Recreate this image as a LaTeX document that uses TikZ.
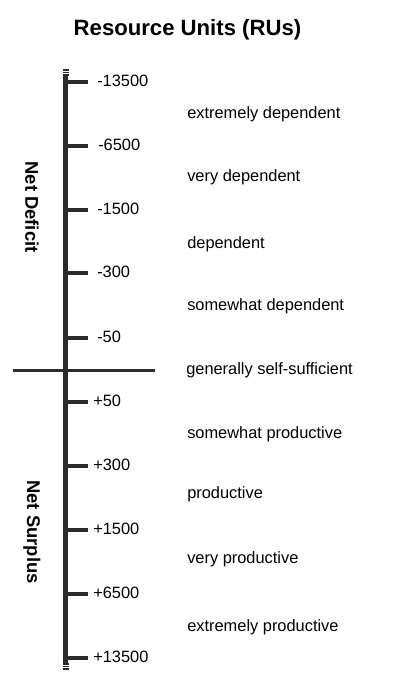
\documentclass[tikz,border=0pt]{standalone}
\usepackage{fontspec}
\setmainfont{Liberation Sans}
\definecolor{ink}{HTML}{2B2B2B}
\begin{document}
\begin{tikzpicture}[x=0.75pt,y=-0.75pt,
  axisline/.style={draw=ink,line width=3.4pt},
  tickline/.style={draw=ink,line width=2.3pt},
  ticklab/.style={anchor=west,inner sep=0pt,font=\fontsize{12.3}{14}\selectfont},
  desclab/.style={anchor=west,inner sep=0pt,font=\fontsize{12.3}{14}\selectfont},
  sidelab/.style={rotate=-90,inner sep=0pt,font=\bfseries\fontsize{13.8}{16}\selectfont}]
\useasboundingbox (0,0) rectangle (400,700);
\node[font=\bfseries\fontsize{16.6}{19}\selectfont,inner sep=0pt] (title) at (187.5,30) {Resource Units (RUs)};
% axis
\coordinate (atop) at (65.5,76);
\coordinate (abot) at (65.5,663);
\draw[axisline] (atop) -- (abot);
% hatch ends
\foreach \yy in {70,72.5,75}{\draw[ink,line width=1.1pt] (62.5,\yy) -- (68.5,\yy);}
\foreach \yy in {664,666.5,669}{\draw[ink,line width=1.1pt] (62.5,\yy) -- (68.5,\yy);}
% divider
\coordinate (dl) at (13,370.5);
\coordinate (dr) at (155,370.5);
\draw[draw=ink,line width=2.4pt] (dl) -- (dr);
% ticks and labels
\foreach \yy/\lab/\xx/\nm in {82/-13500/97/t1,146/-6500/98/t2,210/-1500/97/t3,273/-300/97/t4,338/-50/97/t5,
  402/+50/93/t6,466/+300/93/t7,530/+1500/93/t8,594/+6500/93/t9,658/+13500/93/t10}{
  \coordinate (\nm a) at (67,\yy);
  \coordinate (\nm b) at (88,\yy);
  \draw[tickline] (\nm a) -- (\nm b);
  \node[ticklab] (\nm l) at (\xx,\yy-1.5) {\lab};
}
% descriptions
\node[desclab] (d1) at (187,114) {extremely dependent};
\node[desclab] (d2) at (187,177) {very dependent};
\node[desclab] (d3) at (187,244) {dependent};
\node[desclab] (d4) at (187,306) {somewhat dependent};
\node[desclab] (d5) at (186,370) {generally self-sufficient};
\node[desclab] (d6) at (187,434) {somewhat productive};
\node[desclab] (d7) at (187,494) {productive};
\node[desclab] (d8) at (187,559) {very productive};
\node[desclab] (d9) at (187,627) {extremely productive};
% side labels
\node[sidelab] (nd) at (32,207) {Net Deficit};
\node[sidelab] (ns) at (32,532) {Net Surplus};
\end{tikzpicture}
\end{document}
